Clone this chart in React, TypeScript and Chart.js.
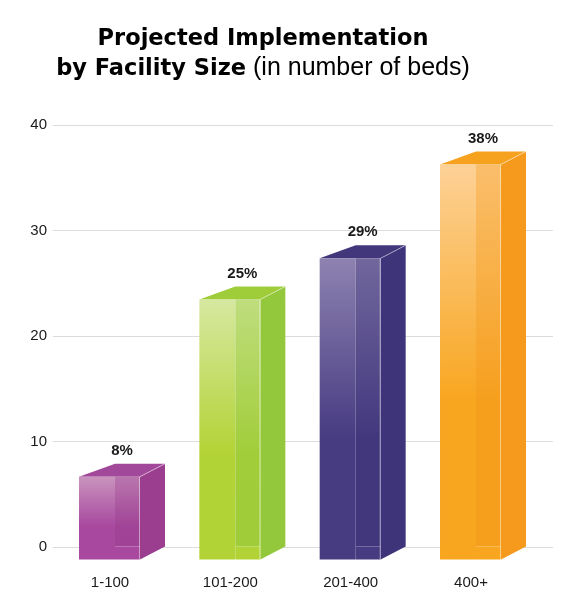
import React, { useEffect, useRef } from "react";
import { Chart, registerables } from "chart.js";

Chart.register(...registerables);

// ---- data ----
const categories = ["1-100", "101-200", "201-400", "400+"];
const heights = [7.9, 24.7, 28.6, 37.5];
const pctLabels = ["8%", "25%", "29%", "38%"];
const yMin = 0;
const yMax = 40;
const yStep = 10;

// ---- styles ----
const sideColors = ["#9b3e8f", "#93c83d", "#3e3479", "#f59a1c"];
const topColors = ["#a2489b", "#9fcd3a", "#42377b", "#f7a21f"];
const frontTopColors = ["#c994bd", "#d6e8a0", "#8d82b0", "#fdd196"];
const frontBottomColors = ["#a8489f", "#b2d335", "#473b82", "#f8a61f"];

const FONT = "'Liberation Sans', Arial, Helvetica, sans-serif";
const TITLE_BOLD = "'DejaVu Sans', 'Liberation Sans', sans-serif";
const DX_L = 36;
const DX_R = 25;
const DY = 13;

function hexToRgb(h: string) {
  const n = parseInt(h.slice(1), 16);
  return [(n >> 16) & 255, (n >> 8) & 255, n & 255];
}
function mix(a: string, b: string, t: number) {
  const ca = hexToRgb(a);
  const cb = hexToRgb(b);
  const c = ca.map((v, k) => Math.round(v * (1 - t) + cb[k] * t));
  return `rgb(${c[0]},${c[1]},${c[2]})`;
}

const bars3d = {
  id: "bars3d",
  afterDatasetsDraw(chart: any) {
    const ctx = chart.ctx as CanvasRenderingContext2D;
    const meta = chart.getDatasetMeta(0);
    meta.data.forEach((el: any, i: number) => {
      const { x, y, base, width } = el.getProps(["x", "y", "base", "width"], true);
      const bx0 = x - width / 2;
      const bx1 = x + width / 2;
      const top = y;
      const fx0 = bx0 - DX_L;
      const fx1 = bx1 - DX_R;
      const ftop = top + DY;
      const fbot = base + DY;
      ctx.save();
      // side face
      ctx.beginPath();
      ctx.moveTo(fx1, ftop);
      ctx.lineTo(bx1, top);
      ctx.lineTo(bx1, base);
      ctx.lineTo(fx1, fbot);
      ctx.closePath();
      ctx.fillStyle = sideColors[i];
      ctx.fill();
      // top face
      ctx.beginPath();
      ctx.moveTo(fx0, ftop);
      ctx.lineTo(bx0, top);
      ctx.lineTo(bx1, top);
      ctx.lineTo(fx1, ftop);
      ctx.closePath();
      ctx.fillStyle = topColors[i];
      ctx.fill();
      // front face, part not over the back face
      const g = ctx.createLinearGradient(0, ftop, 0, fbot);
      g.addColorStop(0, frontTopColors[i]);
      g.addColorStop(0.6, frontBottomColors[i]);
      g.addColorStop(1, frontBottomColors[i]);
      ctx.fillStyle = g;
      ctx.fillRect(fx0, ftop, bx0 - fx0, fbot - ftop);
      // front face, part where back face shows through
      const g2 = ctx.createLinearGradient(0, ftop, 0, fbot);
      g2.addColorStop(0, mix(frontTopColors[i], sideColors[i], 0.35));
      g2.addColorStop(0.6, mix(frontBottomColors[i], sideColors[i], 0.55));
      g2.addColorStop(1, mix(frontBottomColors[i], sideColors[i], 0.6));
      ctx.fillStyle = g2;
      ctx.fillRect(bx0, ftop, fx1 - bx0, base - ftop);
      ctx.fillStyle = g;
      ctx.fillRect(bx0, base, fx1 - bx0, fbot - base);
      // highlight edges
      ctx.strokeStyle = "rgba(255,255,255,0.45)";
      ctx.lineWidth = 1;
      ctx.beginPath();
      ctx.moveTo(fx1 - 0.5, ftop);
      ctx.lineTo(fx1 - 0.5, fbot);
      ctx.moveTo(fx1, ftop);
      ctx.lineTo(bx1, top);
      ctx.stroke();
      // value label
      ctx.fillStyle = "#1a1a1a";
      ctx.font = `bold 15px ${FONT}`;
      ctx.textAlign = "center";
      ctx.textBaseline = "middle";
      ctx.fillText(pctLabels[i], (fx0 + bx1) / 2, top - 13);
      ctx.restore();
    });
  },
};

export default function App() {
  const ref = useRef<HTMLCanvasElement | null>(null);
  useEffect(() => {
    document.body.style.margin = "0";
    const canvas = ref.current;
    if (!canvas) return;
    const chart = new Chart(canvas, {
      type: "bar",
      data: {
        datasets: [
          {
            data: heights.map((v, i) => ({ x: i, y: v })),
            backgroundColor: "rgba(0,0,0,0)",
            borderWidth: 0,
            barThickness: 50,
          },
        ],
      },
      options: {
        responsive: false,
        animation: false,
        layout: { padding: { top: 125, right: 27, left: 0, bottom: 0 } },
        plugins: { legend: { display: false }, tooltip: { enabled: false }, title: { display: false } },
        scales: {
          x: {
            type: "linear",
            offset: false,
            min: -0.723,
            max: 3.432,
            grid: { display: false, drawTicks: false, offset: false },
            border: { display: false },
            afterBuildTicks: (axis: any) => {
              axis.ticks = categories.map((_, i) => ({ value: i }));
            },
            afterFit: (axis: any) => {
              axis.height = 53;
            },
            ticks: {
              padding: 27,
              labelOffset: -30,
              maxRotation: 0,
              autoSkip: false,
              color: "#1a1a1a",
              font: { family: FONT, size: 15 },
              callback: (v: any) => categories[Math.round(Number(v))] ?? "",
            },
          },
          y: {
            min: yMin,
            max: yMax,
            grid: { color: "#dcdcdc", lineWidth: 1, drawTicks: false },
            border: { display: false },
            afterFit: (axis: any) => {
              axis.width = 53;
            },
            ticks: {
              stepSize: yStep,
              padding: 6,
              color: "#1a1a1a",
              font: { family: FONT, size: 15 },
            },
          },
        },
      },
      plugins: [bars3d],
    } as any);
    return () => chart.destroy();
  }, []);

  return (
    <div style={{ position: "relative", width: 580, height: 600, background: "#fff" }}>
      <canvas ref={ref} width={580} height={600} style={{ position: "absolute", left: 0, top: 0, width: 580, height: 600 }} />
      <div
        style={{
          position: "absolute",
          left: 0,
          top: 23,
          width: 526,
          textAlign: "center",
          fontFamily: FONT,
          fontSize: 25,
          lineHeight: "29px",
          color: "#000",
          whiteSpace: "nowrap",
        }}
      >
        <div style={{ fontWeight: 700, fontFamily: TITLE_BOLD, fontSize: 22.5 }}>Projected Implementation</div>
        <div>
          <span style={{ fontWeight: 700, fontFamily: TITLE_BOLD, fontSize: 22.5 }}>by Facility Size</span>{" "}
          <span style={{ fontWeight: 400 }}>(in number of beds)</span>
        </div>
      </div>
    </div>
  );
}
